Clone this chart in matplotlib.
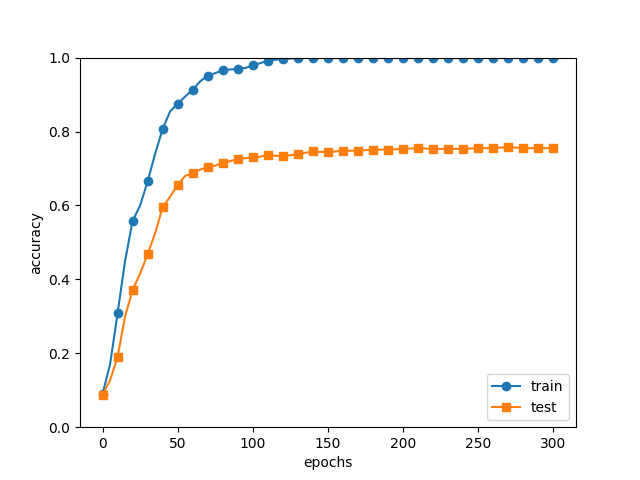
import numpy as np
import matplotlib
matplotlib.use("Agg")
import matplotlib.pyplot as plt

# accuracy (markers every 10 epochs, extra points every 5 early on)
epochs = list(range(0, 111, 5)) + list(range(120, 301, 10))

train_acc = [0.090, 0.170, 0.308, 0.450, 0.558, 0.600, 0.665, 0.740,
             0.807, 0.855, 0.875, 0.895, 0.913, 0.936, 0.951, 0.958,
             0.966, 0.968, 0.969, 0.972, 0.979, 0.985, 0.992,
             0.996, 0.999, 0.999, 0.999, 0.999, 0.999, 0.999, 0.999,
             0.999, 0.999, 0.999, 0.999, 0.999, 0.999, 0.999, 0.999,
             0.999, 0.999, 0.999]

test_acc = [0.087, 0.127, 0.190, 0.300, 0.371, 0.416, 0.468, 0.525,
            0.595, 0.624, 0.656, 0.680, 0.687, 0.697, 0.704, 0.708,
            0.715, 0.720, 0.726, 0.728, 0.730, 0.732, 0.736,
            0.733, 0.739, 0.746, 0.744, 0.748, 0.748, 0.751, 0.751,
            0.753, 0.755, 0.753, 0.753, 0.753, 0.755, 0.755, 0.758,
            0.755, 0.755, 0.755]

marks = [i for i, e in enumerate(epochs) if e % 10 == 0]

fig, ax = plt.subplots(figsize=(6.4, 4.8), dpi=100)
ax.plot(epochs, train_acc, marker="o", label="train", markevery=marks)
ax.plot(epochs, test_acc, marker="s", label="test", markevery=marks)
ax.set_xlabel("epochs")
ax.set_ylabel("accuracy")
ax.set_ylim(0, 1.0)
ax.legend(loc="lower right")

plt.savefig("out.png", dpi=100)
